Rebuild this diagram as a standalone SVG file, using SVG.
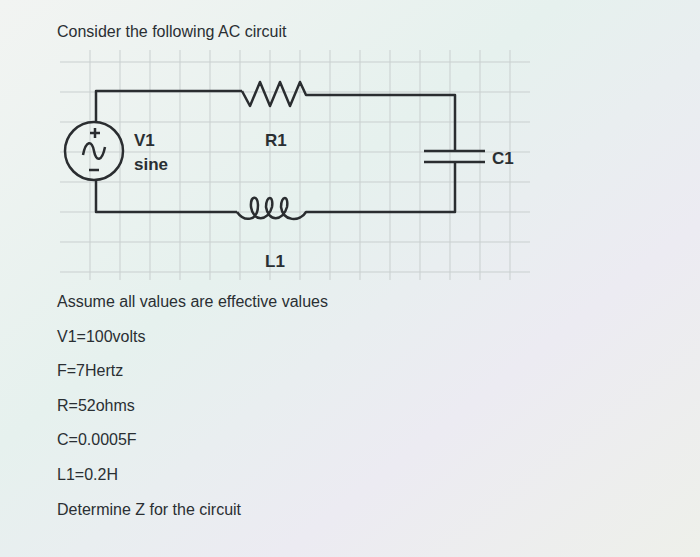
<svg xmlns="http://www.w3.org/2000/svg" width="700" height="557" viewBox="0 0 700 557">
<defs>
<style>
.t{font-family:"Liberation Sans",Arial,sans-serif;font-size:16px;fill:#2a2f33}
.lb{font-family:"Liberation Sans",Arial,sans-serif;font-size:17px;font-weight:bold;fill:#2a2f33}
.w{fill:none;stroke:#2a2d30;stroke-width:2.5;stroke-linejoin:round}
.g{stroke:#c9cfcf;stroke-width:1}
</style>
<linearGradient id="bg" x1="0" y1="0" x2="1" y2="1">
<stop offset="0" stop-color="#f2f4f2"/><stop offset="0.4" stop-color="#e6f1ee"/><stop offset="0.7" stop-color="#ecebf2"/><stop offset="1" stop-color="#eef0ea"/>
</linearGradient>
</defs>
<rect width="700" height="557" fill="url(#bg)"/>
<g id="grid">
<path class="g" d="M60 62H530M60 92H530M60 122H530M60 152H530M60 182H530M60 212H530M60 242H530M60 272H530M90 50V280M120 50V280M150 50V280M180 50V280M210 50V280M240 50V280M270 50V280M300 50V280M330 50V280M360 50V280M390 50V280M420 50V280M450 50V280M480 50V280M510 50V280"/>
</g>
<text class="t" x="57" y="37">Consider the following AC circuit</text>
<g id="connectors">
<path class="w" d="M96 122V91H242M312 95H455V151M455 162V212H316M237 212H96V181"/>
</g>
<g id="V1">
<circle cx="94" cy="151" r="29" fill="none" stroke="#2a2d30" stroke-width="2.5"/>
<path class="w" d="M83 155C86 140 92 140 94 151C96 162 102 162 105 147" stroke-width="2"/>
<path class="w" d="M90 133H100M95 128V138M89 170H99" stroke-width="2"/>
<text class="lb" x="134" y="146">V1</text>
<text class="lb" x="134" y="170">sine</text>
</g>
<g id="R1">
<path class="w" d="M242 91L250 106L260 82L270 106L280 82L290 106L300 82L306 95L312 95"/>
<text class="lb" x="265" y="146">R1</text>
</g>
<g id="C1">
<path class="w" d="M424 151H485M424 162H485"/>
<text class="lb" x="492" y="164">C1</text>
</g>
<g id="L1">
<path class="w" d="M237 212C244 222 258 222 258 205C258 195 250 195 251 207C253 222 268 222 272 207C274 195 266 195 266 207C268 222 283 222 287 207C289 195 281 195 281 207C283 222 300 222 306 212H316"/>
<text class="lb" x="265" y="267">L1</text>
</g>
<text class="t" x="57" y="307">Assume all values are effective values</text>
<text class="t" x="57" y="342">V1=100volts</text>
<text class="t" x="57" y="376">F=7Hertz</text>
<text class="t" x="57" y="411">R=52ohms</text>
<text class="t" x="57" y="445">C=0.0005F</text>
<text class="t" x="57" y="480">L1=0.2H</text>
<text class="t" x="57" y="515">Determine Z for the circuit</text>
</svg>
